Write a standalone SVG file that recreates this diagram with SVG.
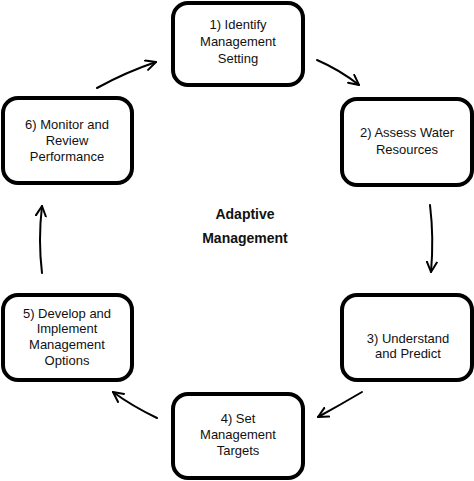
<svg xmlns="http://www.w3.org/2000/svg" width="474" height="481" viewBox="0 0 474 481">
<defs>
<style>
.box{fill:#fff;stroke:#000;stroke-width:4}
.t{font-family:"Liberation Sans",Arial,sans-serif;font-size:13px;fill:#111;text-anchor:middle}
.c{font-family:"Liberation Sans",Arial,sans-serif;font-size:14px;font-weight:bold;fill:#111;text-anchor:middle}
.a{fill:none;stroke:#000;stroke-width:2;stroke-linecap:round;stroke-linejoin:round}
</style>
<marker id="ah" viewBox="0 0 12 12" refX="11" refY="6" markerWidth="12" markerHeight="12" markerUnits="userSpaceOnUse" orient="auto">
<path d="M1,1 L11,6 L1,11" fill="none" stroke="#000" stroke-width="2" stroke-linecap="round" stroke-linejoin="round"/>
</marker>
</defs>
<rect width="474" height="481" fill="#fff"/>
<g id="connectors">
<path class="a" d="M317,60 Q340,70 359,85" marker-end="url(#ah)"/>
<path class="a" d="M430,205 Q434,238 431,272" marker-end="url(#ah)"/>
<path class="a" d="M362,392 Q340,405 318,417" marker-end="url(#ah)"/>
<path class="a" d="M157,418 Q132,406 113,392" marker-end="url(#ah)"/>
<path class="a" d="M42,273 Q38,240 42,206" marker-end="url(#ah)"/>
<path class="a" d="M97,88 Q126,72 156,62" marker-end="url(#ah)"/>
</g>
<g id="n1">
<rect class="box" x="173" y="3" width="130" height="82" rx="15"/>
<text class="t" x="238" y="29">1) Identify</text>
<text class="t" x="238" y="46">Management</text>
<text class="t" x="238" y="63">Setting</text>
</g>
<g id="n2">
<rect class="box" x="342" y="99" width="130" height="86" rx="15"/>
<text class="t" x="407" y="137">2) Assess Water</text>
<text class="t" x="407" y="154">Resources</text>
</g>
<g id="n3">
<rect class="box" x="342" y="295" width="130" height="85" rx="15"/>
<text class="t" x="408" y="343">3) Understand</text>
<text class="t" x="408" y="358">and Predict</text>
</g>
<g id="n4">
<rect class="box" x="173" y="394" width="130" height="84" rx="15"/>
<text class="t" x="238" y="423">4) Set</text>
<text class="t" x="238" y="439">Management</text>
<text class="t" x="238" y="455">Targets</text>
</g>
<g id="n5">
<rect class="box" x="3" y="295" width="129" height="85" rx="15"/>
<text class="t" x="67" y="318">5) Develop and</text>
<text class="t" x="67" y="333">Implement</text>
<text class="t" x="67" y="349">Management</text>
<text class="t" x="67" y="365">Options</text>
</g>
<g id="n6">
<rect class="box" x="3" y="98" width="129" height="85" rx="15"/>
<text class="t" x="67" y="129">6) Monitor and</text>
<text class="t" x="67" y="145">Review</text>
<text class="t" x="67" y="161">Performance</text>
</g>
<g id="center">
<text class="c" x="245" y="219">Adaptive</text>
<text class="c" x="245" y="243">Management</text>
</g>
</svg>
